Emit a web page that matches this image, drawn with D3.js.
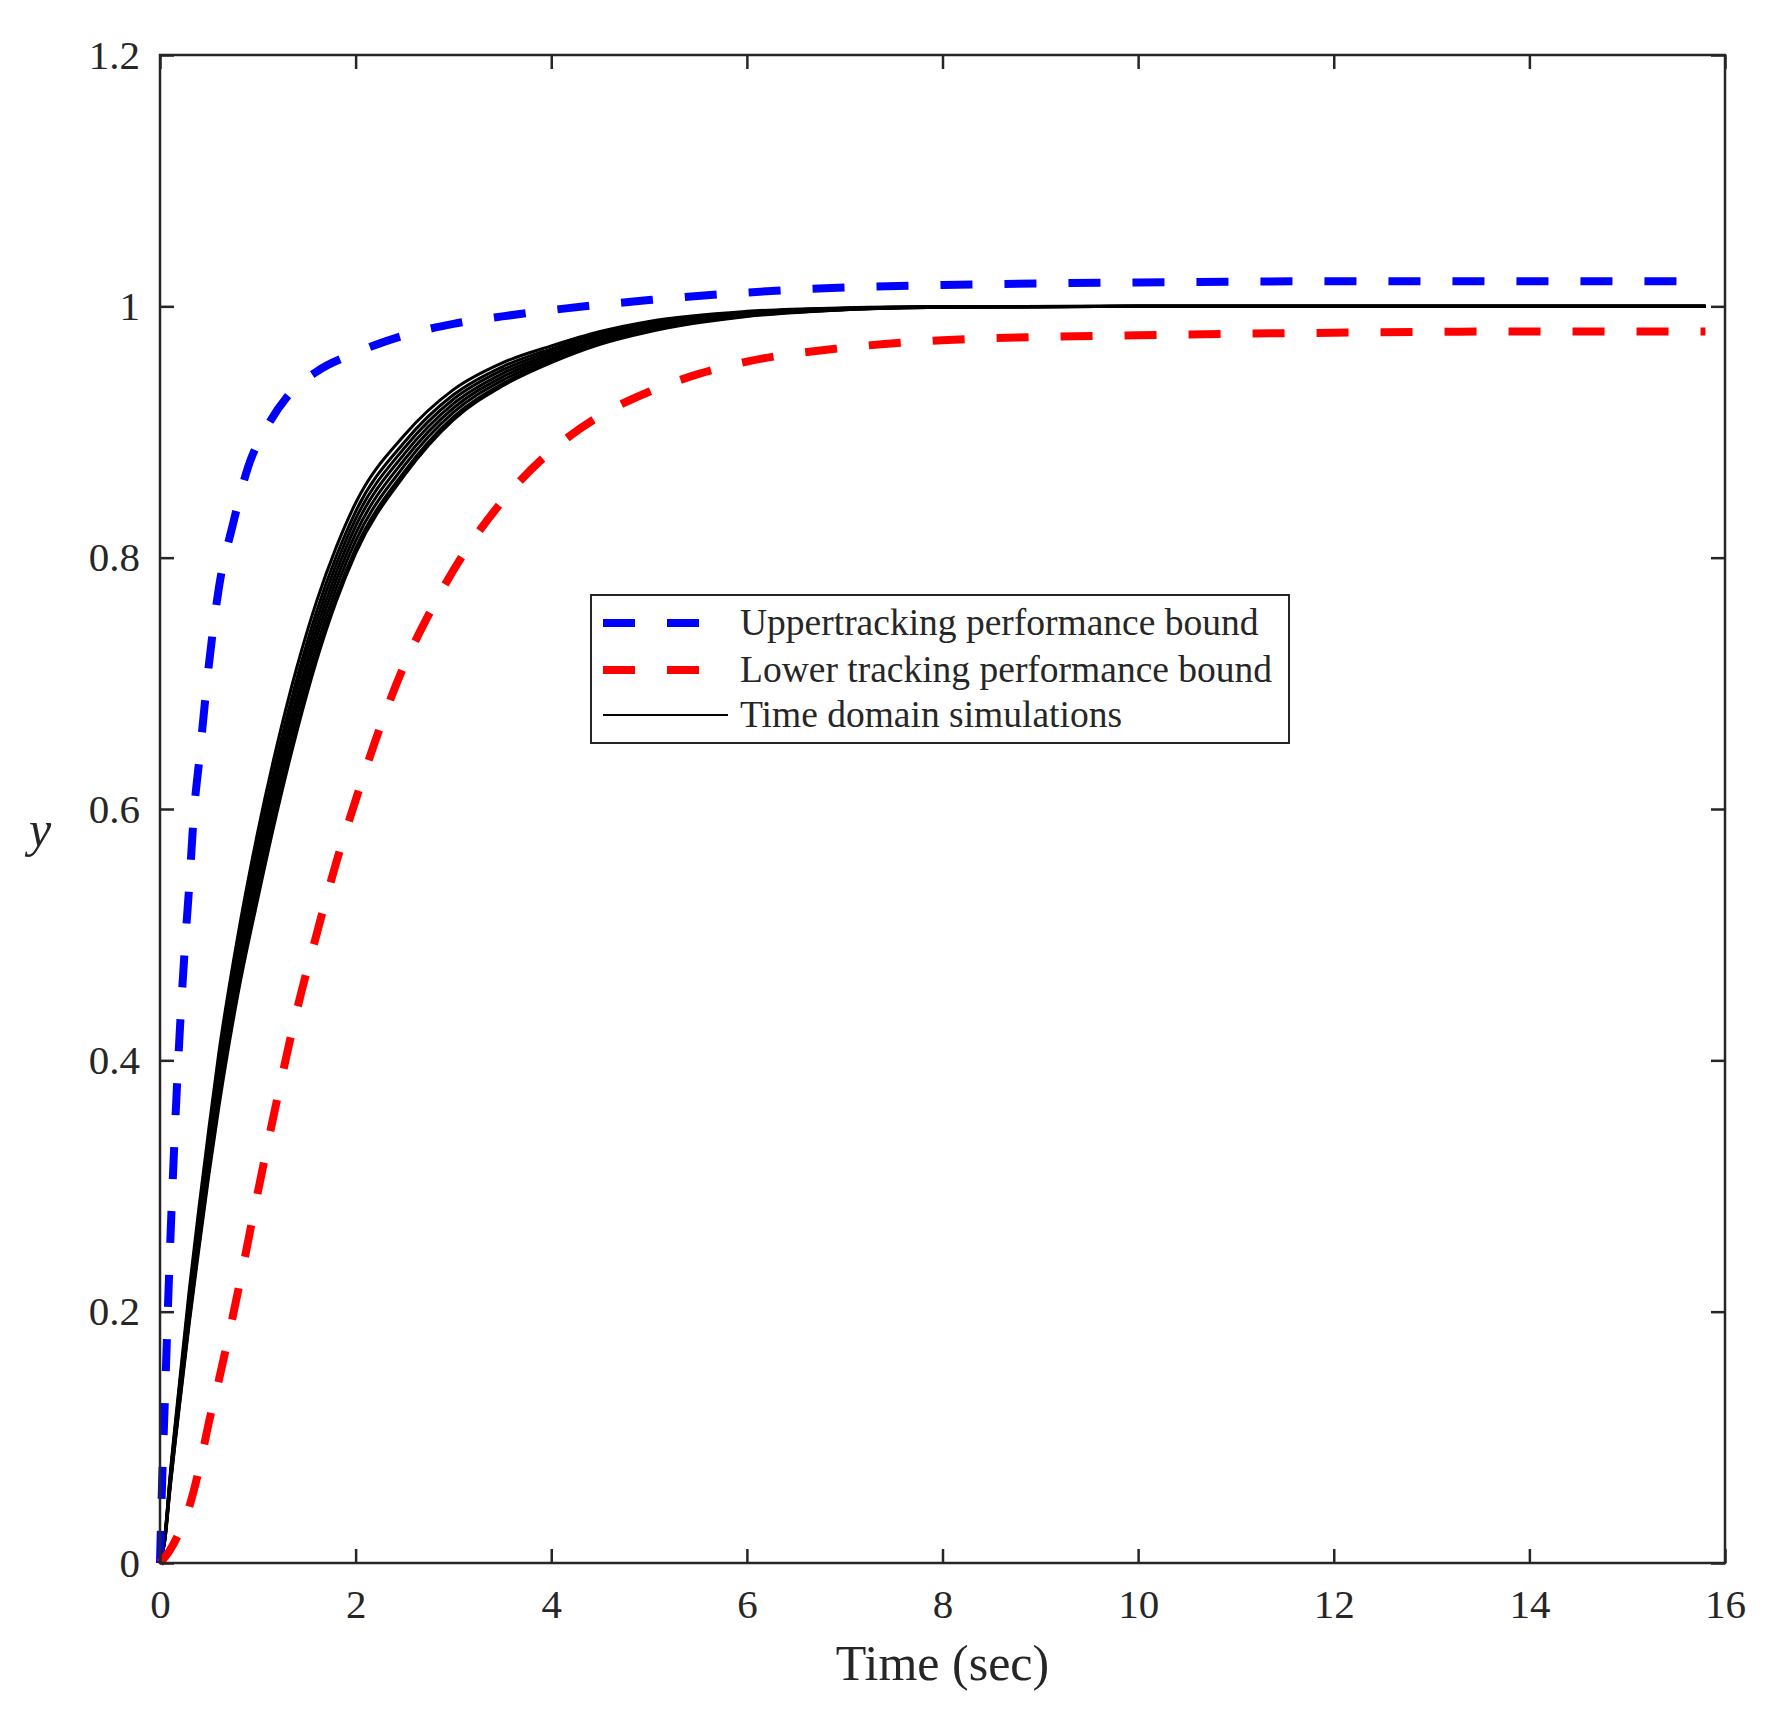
<!DOCTYPE html>
<html>
<head>
<meta charset="utf-8">
<script src="https://cdn.jsdelivr.net/npm/d3@7"></script>
<style>
  body { margin: 0; background: #fff; }
  text { font-family: "Liberation Serif", "Times New Roman", serif; fill: #262626; }
</style>
</head>
<body>
<svg id="chart" width="1787" height="1723"></svg>
<script>
// upper bound (blue dashed)
var upperT = [0, 0.02, 0.05, 0.1, 0.15, 0.2, 0.25, 0.3, 0.35, 0.4, 0.5, 0.6, 0.75, 0.9, 1.1, 1.3, 1.6, 2.0, 2.5, 3.0, 3.5, 4.0, 5.0, 6.0, 7.0, 8.0, 10, 12, 14, 15.8];
var upperY = [0, 0.06, 0.13, 0.245, 0.34, 0.42, 0.485, 0.54, 0.6, 0.638, 0.715, 0.775, 0.828, 0.872, 0.905, 0.928, 0.948, 0.963, 0.977, 0.986, 0.992, 0.997, 1.005, 1.011, 1.015, 1.017, 1.019, 1.02, 1.02, 1.02];

// lower bound (red dashed)
var lowerT = [0, 0.1, 0.2, 0.3, 0.4, 0.5, 0.6, 0.8, 1.0, 1.2, 1.4, 1.6, 1.8, 2.0, 2.2, 2.5, 2.75, 3.0, 3.5, 4.0, 4.5, 5.0, 5.5, 6.0, 7.0, 8.0, 10, 12, 14, 15.8];
var lowerY = [0, 0.01, 0.025, 0.045, 0.075, 0.112, 0.145, 0.217, 0.295, 0.37, 0.44, 0.5, 0.557, 0.607, 0.654, 0.715, 0.755, 0.79, 0.845, 0.885, 0.913, 0.932, 0.946, 0.956, 0.967, 0.973, 0.977, 0.979, 0.98, 0.98];

// time domain simulations (black)
var simT = [0, 0.05, 0.1, 0.2, 0.3, 0.4, 0.5, 0.6, 0.8, 1.0, 1.2, 1.4, 1.6, 1.8, 2.0, 2.5, 3.0, 3.5, 4.0, 4.5, 5.0, 6.0, 7.0, 8.0, 10, 12, 14, 15.8];
var sim1 = [0, .022, .067, .144, .218, .284, .346, .405, .501, .582, .652, .713, .765, .808, .8435, .8976, .9337, .955, .9685, .980, .988, .996, .9988, .9998, 1, 1, 1, 1];
var sim2 = [0, .0213, .0653, .1409, .2135, .2784, .3397, .3977, .493, .573, .643, .704, .757, .8007, .8367, .8921, .9296, .9519, .9662, .9783, .9866, .9953, .9985, .9997, 1, 1, 1, 1];
var sim3 = [0, .0207, .0638, .1382, .2096, .2736, .3343, .3914, .486, .565, .635, .697, .750, .7944, .8308, .8875, .9261, .9492, .9643, .9768, .9854, .9947, .9983, .9996, 1, 1, 1, 1];
var sim4 = [0, .0201, .0623, .1355, .2057, .2688, .3289, .385, .479, .557, .627, .689, .743, .788, .825, .8828, .9226, .9465, .9623, .9753, .9842, .9941, .998, .9995, 1, 1, 1, 1];
var sim5 = [0, .0195, .0608, .1328, .2018, .264, .3235, .3788, .4723, .5495, .6195, .6818, .7363, .7818, .8191, .8781, .9191, .9438, .9604, .9738, .983, .9935, .9978, .9994, 1, 1, 1, 1];
var sim6 = [0, .0189, .0593, .130, .1979, .2592, .3181, .3725, .4654, .5417, .6117, .6743, .7294, .7755, .8133, .8734, .9156, .9411, .9584, .9723, .9818, .9929, .9976, .9993, 1, 1, 1, 1];
var sim7 = [0, .0183, .0578, .1274, .194, .2544, .3127, .3662, .4585, .5339, .6039, .6668, .7225, .7692, .8074, .8687, .9121, .9384, .9565, .9708, .9806, .9923, .9973, .9992, 1, 1, 1, 1];
var sim8 = [0, .0179, .0568, .1256, .1914, .2512, .3091, .362, .4539, .5287, .5987, .6618, .7179, .765, .8035, .8656, .9097, .9366, .9552, .9698, .9798, .9919, .9972, .9992, 1, 1, 1, 1];
var sims = [sim1, sim2, sim3, sim4, sim5, sim6, sim7, sim8];

var xTicks = [0, 2, 4, 6, 8, 10, 12, 14, 16];
var yTicks = [0, 0.2, 0.4, 0.6, 0.8, 1, 1.2];
var legendLabels = ["Uppertracking performance bound", "Lower tracking performance bound", "Time domain simulations"];

var margin = {left: 160, top: 55};
var width = 1565, height = 1508;
var axisColor = "#262626";

var svg = d3.select("#chart");
var g = svg.append("g").attr("transform", "translate(" + margin.left + "," + margin.top + ")");

var x = d3.scaleLinear().domain([0, 16]).range([0, width]);
var y = d3.scaleLinear().domain([0, 1.2]).range([height, 0]);

function zip(ts, ys) {
  return ts.map(function(t, i) { return [t, ys[i]]; });
}

var line = d3.line()
  .x(function(d) { return x(d[0]); })
  .y(function(d) { return y(d[1]); })
  .curve(d3.curveMonotoneX);

// simulations
sims.forEach(function(s) {
  g.append("path")
    .attr("d", line(zip(simT, s)))
    .attr("fill", "none")
    .attr("stroke", "#000")
    .attr("stroke-width", 3);
});

g.append("path")
  .attr("d", line(zip(upperT, upperY)))
  .attr("fill", "none")
  .attr("stroke", "#0000ff")
  .attr("stroke-width", 8)
  .attr("stroke-dasharray", "32,32");

g.append("path")
  .attr("d", line(zip(lowerT, lowerY)))
  .attr("fill", "none")
  .attr("stroke", "#ff0000")
  .attr("stroke-width", 8)
  .attr("stroke-dasharray", "32,32");

// axes, ticks pointing inward
var fmt = function(d) { return d3.format("~g")(d); };
var xAxis = g.append("g")
  .attr("transform", "translate(0," + height + ")")
  .call(d3.axisBottom(x).tickValues(xTicks).tickFormat(fmt).tickSizeInner(-14).tickSizeOuter(0).tickPadding(26));
var xTop = g.append("g")
  .call(d3.axisTop(x).tickValues(xTicks).tickFormat("").tickSizeInner(-14).tickSizeOuter(0));
var yAxis = g.append("g")
  .call(d3.axisLeft(y).tickValues(yTicks).tickFormat(fmt).tickSizeInner(-14).tickSizeOuter(0).tickPadding(20));
var yRight = g.append("g")
  .attr("transform", "translate(" + width + ",0)")
  .call(d3.axisRight(y).tickValues(yTicks).tickFormat("").tickSizeInner(-14).tickSizeOuter(0));

[xAxis, xTop, yAxis, yRight].forEach(function(a) {
  a.select(".domain").remove();
  a.selectAll(".tick line").attr("stroke", axisColor).attr("stroke-width", 2.5);
  a.selectAll(".tick text")
    .style("font-family", '"Liberation Serif", "Times New Roman", serif')
    .style("font-size", "41px")
    .attr("fill", axisColor);
});

g.append("rect")
  .attr("x", 0).attr("y", 0)
  .attr("width", width).attr("height", height)
  .attr("fill", "none")
  .attr("stroke", axisColor)
  .attr("stroke-width", 2.5);

// axis labels
svg.append("text")
  .attr("x", margin.left + width / 2)
  .attr("y", 1680)
  .attr("text-anchor", "middle")
  .style("font-size", "50px")
  .text("Time (sec)");

svg.append("text")
  .attr("x", 40)
  .attr("y", 846)
  .attr("text-anchor", "middle")
  .style("font-size", "50px")
  .style("font-style", "italic")
  .text("y");

// legend
var legend = svg.append("g");
legend.append("rect")
  .attr("x", 591).attr("y", 595)
  .attr("width", 698).attr("height", 148)
  .attr("fill", "#fff")
  .attr("stroke", axisColor)
  .attr("stroke-width", 2);

var legendColors = ["#0000ff", "#ff0000", "#000"];
var legendRows = [623, 670, 715];
legendLabels.forEach(function(lbl, i) {
  var ln = legend.append("line")
    .attr("x1", 603).attr("x2", 728)
    .attr("y1", legendRows[i]).attr("y2", legendRows[i])
    .attr("stroke", legendColors[i]);
  if (i < 2) {
    ln.attr("stroke-width", 8).attr("stroke-dasharray", "32,32");
  } else {
    ln.attr("stroke-width", 2);
  }
  legend.append("text")
    .attr("x", 740)
    .attr("y", legendRows[i] + 12)
    .style("font-size", "37.5px")
    .attr("fill", "#000")
    .text(lbl);
});
</script>
</body>
</html>
